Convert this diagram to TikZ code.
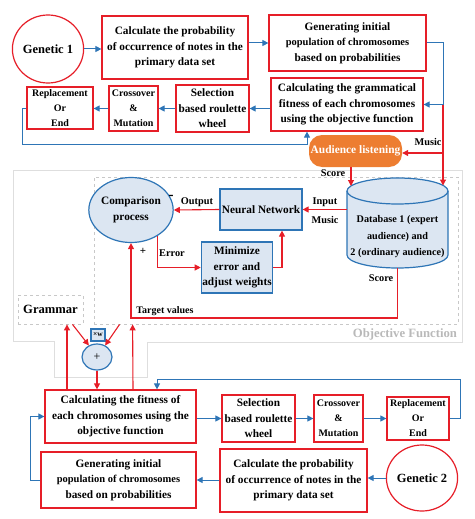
\documentclass[tikz,border=0pt]{standalone}
\usepackage{fontspec}
\setmainfont{Liberation Serif}
\usetikzlibrary{arrows.meta,calc,shapes.geometric}
\definecolor{mred}{RGB}{230,30,40}
\definecolor{mblue}{RGB}{46,117,182}
\definecolor{lfill}{RGB}{220,230,242}
\definecolor{morange}{RGB}{237,125,49}
\definecolor{dgrey}{RGB}{200,200,200}
\definecolor{ogrey}{RGB}{222,222,222}
\definecolor{tgrey}{RGB}{185,185,185}
\begin{document}
\begin{tikzpicture}[x=1pt,y=-1pt,
  rbox/.style={draw=mred, line width=1.2pt, fill=white, align=center, font=\fontsize{11.3}{15.5}\selectfont\bfseries, inner sep=1pt},
  sbox/.style={rbox, font=\fontsize{10}{15}\selectfont\bfseries},
  bbox/.style={draw=mblue, line width=1.2pt, fill=lfill, align=center, font=\fontsize{11.3}{15.5}\selectfont\bfseries, inner sep=1pt},
  gcirc/.style={ellipse, draw=mred, line width=1.2pt, fill=white, font=\fontsize{12.5}{14}\selectfont\bfseries, inner sep=0pt},
  barr/.style={draw=mblue, line width=1pt, -{Triangle[length=6pt,width=6pt]}},
  rarr/.style={draw=mred, line width=1.1pt, -{Triangle[length=6pt,width=6pt]}},
  lbl/.style={font=\fontsize{10.3}{11}\selectfont\bfseries, inner sep=0pt}
]
\useasboundingbox (0,0) rectangle (474,519);

% objective function outline
\draw[ogrey, line width=0.8pt] (13,170) -- (462,170) -- (462,342) -- (147,342) -- (147,377) -- (54,377) -- (54,341) -- (13,341) -- cycle;
\node[draw=dgrey, dashed, line width=0.8pt, minimum width=364pt, minimum height=147pt, inner sep=0pt] (obj) at (276,250.5) {};
\node[draw=dgrey, dashed, line width=0.8pt, minimum width=65pt, minimum height=29pt, font=\fontsize{12.6}{13}\selectfont\bfseries, inner sep=0pt] (grammar) at (50.5,309.5) {Grammar};
\node[text=tgrey, font=\fontsize{12.7}{13}\selectfont\bfseries, inner sep=0pt] (objlbl) at (405,334) {Objective Function};

% top genetic part
\node[gcirc, minimum width=62pt, minimum height=68pt] (g1) at (48,49) {Genetic 1};
\node[rbox, minimum width=146pt, minimum height=63pt] (calc1) at (175,47.5) {Calculate the probability\\of occurrence of notes in the\\primary data set};
\node[rbox, minimum width=157pt, minimum height=56pt] (gen1) at (347.5,43) {Generating initial\\{\fontsize{10.5}{15}\selectfont population of chromosomes}\\based on probabilities};
\node[rbox, minimum width=152pt, minimum height=53pt] (gram) at (347,104.5) {Calculating the grammatical\\fitness of each chromosomes\\using the objective function};
\node[rbox, minimum width=73pt, minimum height=47pt] (sel1) at (212.5,108.5) {Selection\\based roulette\\wheel};
\node[sbox, minimum width=49pt, minimum height=45pt] (cross1) at (133.5,108.5) {Crossover\\\&\\Mutation};
\node[sbox, minimum width=66pt, minimum height=42pt] (rep1) at (60,108) {Replacement\\Or\\End};
\node[rounded corners=13pt, fill=morange, text=white, minimum width=93pt, minimum height=32pt, font=\fontsize{11.4}{12}\selectfont\bfseries, inner sep=0pt] (aud) at (355.5,151) {Audience listening};

% neural network part
\node[ellipse, draw=mblue, line width=1.2pt, fill=lfill, minimum width=69pt, minimum height=65pt, align=center, font=\fontsize{11.3}{15.5}\selectfont\bfseries, inner sep=0pt] (comp) at (131,210) {Comparison\\process};
\node[bbox, minimum width=82pt, minimum height=41pt] (nn) at (261,209.5) {Neural Network};
\node[bbox, minimum width=66pt, minimum height=51pt] (mini) at (237,267.5) {Minimize\\error and\\adjust weights};

% database cylinder
\fill[lfill] (347,191) -- (347,255) arc[start angle=180, end angle=0, x radius=50.5, y radius=13] -- (448,191) arc[start angle=0, end angle=-180, x radius=50.5, y radius=13] -- cycle;
\draw[mblue, line width=1.2pt] (347,191) -- (347,255) arc[start angle=180, end angle=0, x radius=50.5, y radius=13] -- (448,191);
\draw[mblue, line width=1.2pt] (397.5,191) ellipse [x radius=50.5, y radius=13];
\node[minimum width=101pt, minimum height=90pt, inner sep=0pt] (db) at (397.5,223) {};
\node[align=center, font=\fontsize{10.2}{16.5}\selectfont\bfseries, inner sep=0pt] (dbtext) at (397.5,237) {Database 1 (expert\\audience) and\\2 (ordinary audience)};
\coordinate (dbA) at (443,185.5);
\coordinate (dbB) at (351,186);
\coordinate (dbL) at (347,209.5);

% lower part
\node[draw=mblue, line width=1.2pt, fill=lfill, minimum width=14pt, minimum height=12pt, inner sep=0pt, font=\fontsize{7.5}{8}\selectfont\bfseries] (xw) at (98,335) {×w};
\node[ellipse, draw=mblue, line width=1.2pt, fill=lfill, minimum width=30pt, minimum height=26pt, inner sep=0pt, font=\fontsize{12}{12}\selectfont] (plus) at (97,357) {+};
\node[rbox, minimum width=151pt, minimum height=53pt] (fit) at (120.5,416.5) {Calculating the fitness of\\each chromosomes using the\\objective function};
\node[rbox, minimum width=155pt, minimum height=56pt] (gen2) at (118.5,480) {Generating initial\\{\fontsize{10.5}{15}\selectfont population of chromosomes}\\based on probabilities};
\node[rbox, minimum width=73pt, minimum height=47pt] (sel2) at (258.5,418.5) {Selection\\based roulette\\wheel};
\node[sbox, minimum width=49pt, minimum height=47pt] (cross2) at (338.5,418.5) {Crossover\\\&\\Mutation};
\node[sbox, minimum width=62pt, minimum height=43pt] (rep2) at (418,418.5) {Replacement\\Or\\End};
\node[rbox, minimum width=147pt, minimum height=63pt] (calc2) at (293.5,480.5) {Calculate the probability\\of occurrence of notes in the\\primary data set};
\node[gcirc, minimum width=60pt, minimum height=66pt] (g2) at (422,478) {Genetic 2};

% top connectors
\draw[barr] (g1.east) -- (g1.east -| calc1.west);
\draw[barr] (calc1.east |- gen1.west) -- (gen1.west);
\coordinate (jr) at (443,104.5);
\coordinate (jm) at (443,153);
\draw[barr] (gen1.east) -| (jr) -- (gram.east);
\draw[rarr] (jr) -- (dbA);
\draw[rarr] (jm) -- (jm -| aud.east);
\node[lbl] (lmusic1) at (428,142) {Music};
\draw[barr] (gram.west |- sel1.east) -- (sel1.east);
\draw[barr] (sel1.west) -- (sel1.west -| cross1.east);
\draw[barr] (cross1.west) -- (cross1.west -| rep1.east);
\coordinate (fb1) at (307,144);
\draw[barr] (rep1.west) -| (22,144) -- (fb1) -- (fb1 |- gram.south);
\draw[rarr] (dbB |- aud.south) -- (dbB);
\node[lbl] (lscore1) at (333,173) {Score};

% network connectors
\draw[rarr] (dbL) -- (nn.east);
\node[lbl] (linput) at (325,202) {Input};
\node[lbl] (lmusic2) at (325,220) {Music};
\draw[rarr] (nn.west) -- (comp.east);
\node[lbl] (loutput) at (197,202) {Output};
\node[font=\fontsize{15}{15}\selectfont\bfseries, inner sep=0pt] (lminus) at (171,197) {-};
\draw[rarr] (comp.-45) |- (mini.west);
\node[lbl] (lerror) at (172,253) {Error};
\node[font=\fontsize{11}{11}\selectfont\bfseries, inner sep=0pt] (lplus) at (143,251) {+};
\draw[rarr] (mini.east) -| ([xshift=21pt]nn.south);
\draw[rarr] (db.south) -- (397.5,318) -| (comp.south);
\node[lbl] (lscore2) at (381,278) {Score};
\node[font=\fontsize{10}{11}\selectfont\bfseries, inner sep=0pt] (ltarget) at (165,311) {Target values};

% lower connectors
\draw[rarr] ([xshift=22pt]grammar.south) -- (plus.125);
\draw[rarr] ([xshift=26pt]obj.south west) -- (plus.55);
\draw[rarr] (plus.south) -- (plus.south |- fit.north);
\draw[rarr] ([xshift=-53.5pt]fit.north) -- ([xshift=16.5pt]grammar.south);
\draw[rarr] ([xshift=12.5pt]fit.north) -- ([xshift=39pt]obj.south west);
\coordinate (fb2) at (460,379);
\draw[barr] (rep2.east) -| (fb2) -| ([xshift=36.5pt]fit.north);
\draw[barr] (fit.east |- sel2.west) -- (sel2.west);
\draw[barr] (sel2.east) -- (cross2.west);
\draw[barr] (cross2.east) -- (rep2.west);
\draw[barr] (g2.west) -- (g2.west -| calc2.east);
\draw[barr] (calc2.west |- gen2.east) -- (gen2.east);
\draw[barr] (gen2.west) -- ++(-10,0) |- (fit.west);
\end{tikzpicture}
\end{document}
